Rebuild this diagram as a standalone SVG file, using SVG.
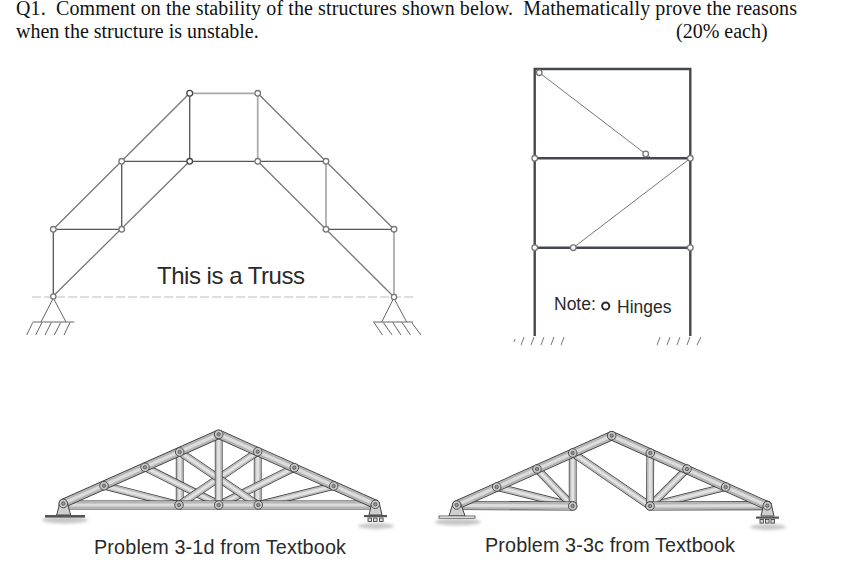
<svg xmlns="http://www.w3.org/2000/svg" width="859" height="567" viewBox="0 0 859 567">
<style>
.q{font-family:"Liberation Serif","Times New Roman",serif;font-size:20px;fill:#111}
.s{font-family:"Liberation Sans",Arial,sans-serif;fill:#2a2a2a}
.m{stroke:#77777b;stroke-width:1.3;fill:none}
.l{stroke:#a8a8ac;stroke-width:1.7;fill:none}
.k{stroke:#55555b;stroke-width:1.3;fill:none}
.t{stroke:#666;stroke-width:1;fill:none}
.j{fill:#fff;stroke:#77777b;stroke-width:1.3}
.fr{stroke:#44484e;stroke-width:2.4;fill:none}
.br{stroke:#77777b;stroke-width:1;fill:none}
.o{stroke:#3a3a3a;stroke-width:7.8;fill:none}
.f{stroke:#bcbcbc;stroke-width:6.4;fill:none}
.h{stroke:#e2e2e2;stroke-width:3;fill:none}
.co{stroke:#333;stroke-width:9.2;fill:none;stroke-linecap:round}
.cf{stroke:#b4b4b4;stroke-width:7.8;fill:none;stroke-linecap:round}
.ch{stroke:#dcdcdc;stroke-width:3.2;fill:none}
.p{fill:#cfcfcf;stroke:#444;stroke-width:1}
.bs{fill:#d8d8d8;stroke:#333;stroke-width:.8}
</style>
<defs>
<filter id="blur" x="-20%" y="-80%" width="140%" height="260%"><feGaussianBlur stdDeviation="1.4"/></filter>
<g id="pin"><circle r="4.3" fill="#c8c8c8" stroke="#444" stroke-width=".9"/><circle r="1.7" fill="#999" stroke="#333" stroke-width=".6"/></g>
</defs>
<rect width="859" height="567" fill="#fff"/>

<g id="question">
<text class="q" x="16" y="15" xml:space="preserve" textLength="781" lengthAdjust="spacing">Q1.  Comment on the stability of the structures shown below.  Mathematically prove the reasons</text>
<text class="q" x="16" y="38">when the structure is unstable.</text>
<text class="q" x="676" y="38">(20% each)</text>
</g>

<g id="truss-connectors">
<path d="M32 297H416" stroke="#bdbdbd" stroke-width="1.1" stroke-dasharray="9 3" fill="none"/>
<path class="m" d="M53.3 296L189.7 161.3M53.3 229.3L189.7 93.3M257.7 93.3L394 229.3M257.7 161.3L394 297"/>
<path class="k" d="M53.3 296V229.3M121.7 229.3V161.3M189.7 161.3V93.3M53.3 229.3H121.7M121.7 161.3H326M326 229.3H394"/>
<path class="l" d="M189.7 93.3H257.7M257.7 93.3V161.3M326 161.3V229.3M394 229.3V297"/>
</g>
<g id="truss-supports">
<path class="t" d="M53.3 298L41 322M53.3 298L66 322M32.7 322H74.3M393.8 298L381.7 322M393.8 298L406.7 322M373 322H413"/>
<path class="t" d="M32.7 322.5L26.7 335M42 322.5L35.7 335M51.3 322.5L45 335M60.7 322.5L54.3 335M70 322.5L64 335M374 322.5L382.5 335M383.3 322.5L392 335M392.7 322.5L401 335M402 322.5L410.5 335M411.7 322.5L421 335"/>
</g>
<g id="n1"><circle class="j" cx="53.3" cy="296.5" r="2.6"/></g>
<g id="n2"><circle class="j" cx="53.3" cy="229.3" r="2.8"/></g>
<g id="n3"><circle class="j" cx="121.7" cy="229.3" r="2.8"/></g>
<g id="n4"><circle class="j" cx="121.7" cy="161.3" r="2.8"/></g>
<g id="n5"><circle class="j" cx="189.7" cy="161.3" r="2.8" style="stroke:#444"/></g>
<g id="n6"><circle class="j" cx="189.7" cy="93.3" r="2.9" style="stroke:#444"/></g>
<g id="n7"><circle class="j" cx="257.7" cy="93.3" r="2.8"/></g>
<g id="n8"><circle class="j" cx="257.7" cy="161.3" r="2.8"/></g>
<g id="n9"><circle class="j" cx="326" cy="161.3" r="2.8"/></g>
<g id="n10"><circle class="j" cx="326" cy="229.3" r="2.8"/></g>
<g id="n11"><circle class="j" cx="394" cy="229.3" r="2.8"/></g>
<g id="n12"><circle class="j" cx="394" cy="297" r="2.6"/></g>
<text class="s" x="157" y="284" font-size="24" textLength="148">This is a Truss</text>

<g id="frame-connectors">
<path class="fr" d="M534.7 336V69H690.3V336M534.7 158.3H690.3M534.7 247.7H690.3"/>
<path class="br" d="M539.3 72.7L645.7 154L650 157M690.3 158.3L573.3 247.7"/>
<path stroke="#666" stroke-width=".9" fill="none" d="M515 339L514 342M524 337L521 345M534 337L531 345M544 337L541 345M554 337L551 345M564 337L561 345M660 337L657 345M670 337L667 345M680 337L677 345M690 337L687 345M701 337L697 345"/>
</g>
<g id="h1"><circle class="j" cx="539.3" cy="72.7" r="2.8"/></g>
<g id="h2"><circle class="j" cx="645.7" cy="154" r="2.8"/></g>
<g id="h3"><circle class="j" cx="534.7" cy="158.3" r="2.8"/></g>
<g id="h4"><circle class="j" cx="690.3" cy="158.3" r="2.8"/></g>
<g id="h5"><circle class="j" cx="534.7" cy="247.7" r="2.8"/></g>
<g id="h6"><circle class="j" cx="573.3" cy="247.7" r="2.8"/></g>
<g id="h7"><circle class="j" cx="690.3" cy="247.7" r="2.8"/></g>
<text class="s" x="554" y="310" font-size="17.5">Note:</text>
<circle cx="605.7" cy="306" r="3.6" fill="#fff" stroke="#2a2d33" stroke-width="2"/>
<text class="s" x="617" y="312.5" font-size="17.5">Hinges</text>

<g id="truss-1d">
<ellipse cx="65" cy="520" rx="23" ry="3.5" fill="#c8c8c8" filter="url(#blur)"/>
<ellipse cx="376" cy="526" rx="18" ry="3" fill="#c8c8c8" filter="url(#blur)"/>
<g>
<line class="o" x1="179.7" y1="452" x2="179.7" y2="505"/><line class="f" x1="179.7" y1="452" x2="179.7" y2="505"/><line class="h" x1="179.7" y1="452" x2="179.7" y2="505"/>
<line class="o" x1="257.7" y1="452" x2="257.7" y2="505"/><line class="f" x1="257.7" y1="452" x2="257.7" y2="505"/><line class="h" x1="257.7" y1="452" x2="257.7" y2="505"/>
<line class="o" x1="104" y1="485.7" x2="179" y2="505"/><line class="f" x1="104" y1="485.7" x2="179" y2="505"/><line class="h" x1="104" y1="485.7" x2="179" y2="505"/>
<line class="o" x1="333.7" y1="486" x2="258" y2="505"/><line class="f" x1="333.7" y1="486" x2="258" y2="505"/><line class="h" x1="333.7" y1="486" x2="258" y2="505"/>
<line class="o" x1="294.3" y1="467.7" x2="218.7" y2="505"/><line class="f" x1="294.3" y1="467.7" x2="218.7" y2="505"/><line class="h" x1="294.3" y1="467.7" x2="218.7" y2="505"/>
<line class="o" x1="145" y1="467.3" x2="220" y2="505"/><line class="f" x1="145" y1="467.3" x2="220" y2="505"/><line class="h" x1="145" y1="467.3" x2="220" y2="505"/>
<line class="o" x1="257.7" y1="451.7" x2="179" y2="505"/><line class="f" x1="257.7" y1="451.7" x2="179" y2="505"/><line class="h" x1="257.7" y1="451.7" x2="179" y2="505"/>
<line class="o" x1="179.7" y1="452" x2="258" y2="505"/><line class="f" x1="179.7" y1="452" x2="258" y2="505"/><line class="h" x1="179.7" y1="452" x2="258" y2="505"/>
<line class="o" x1="218.7" y1="434.3" x2="218.7" y2="505"/><line class="f" x1="218.7" y1="434.3" x2="218.7" y2="505"/><line class="h" x1="218.7" y1="434.3" x2="218.7" y2="505"/>
</g>
<g>
<line class="co" x1="63.3" y1="505" x2="375.3" y2="505"/><line class="cf" x1="63.3" y1="505" x2="375.3" y2="505"/><line class="ch" x1="70" y1="505" x2="368" y2="505"/>
<line class="co" x1="63.3" y1="503.3" x2="218.7" y2="434.3"/><line class="cf" x1="63.3" y1="503.3" x2="218.7" y2="434.3"/><line class="ch" x1="63.3" y1="503.3" x2="218.7" y2="434.3"/>
<line class="co" x1="218.7" y1="434.3" x2="375.3" y2="504.3"/><line class="cf" x1="218.7" y1="434.3" x2="375.3" y2="504.3"/><line class="ch" x1="218.7" y1="434.3" x2="375.3" y2="504.3"/>
</g>
<path class="p" d="M56.7 515L60 502Q63.5 498 67 502L70.7 515Z"/>
<path class="p" d="M369 515L372 502Q375.5 498 379 502L382 515Z"/>
<rect x="45" y="515" width="40" height="2.6" fill="#555"/>
<rect x="364" y="515" width="23" height="2.2" fill="#555"/>
<rect class="bs" x="368" y="518" width="3.6" height="3.6"/><rect class="bs" x="373.5" y="518" width="3.6" height="3.6"/><rect class="bs" x="379.5" y="518" width="3.6" height="3.6"/>
<use href="#pin" x="63.3" y="503.5"/><use href="#pin" x="104" y="485.7"/><use href="#pin" x="145" y="467.3"/><use href="#pin" x="179.7" y="452"/><use href="#pin" x="218.7" y="434.3"/><use href="#pin" x="257.7" y="451.7"/><use href="#pin" x="294.3" y="467.7"/><use href="#pin" x="333.7" y="486"/><use href="#pin" x="375.3" y="504.3"/><use href="#pin" x="179" y="505"/><use href="#pin" x="218.7" y="505"/><use href="#pin" x="258.3" y="505"/>
</g>
<text class="s" x="94" y="554" font-size="19.8" textLength="252">Problem 3-1d from Textbook</text>

<g id="truss-3c">
<ellipse cx="458" cy="522" rx="23" ry="3.5" fill="#c8c8c8" filter="url(#blur)"/>
<ellipse cx="768" cy="527" rx="18" ry="3" fill="#c8c8c8" filter="url(#blur)"/>
<g>
<line class="o" x1="496.7" y1="487" x2="572.7" y2="506"/><line class="f" x1="496.7" y1="487" x2="572.7" y2="506"/><line class="h" x1="496.7" y1="487" x2="572.7" y2="506"/>
<line class="o" x1="537" y1="469" x2="572.7" y2="506"/><line class="f" x1="537" y1="469" x2="572.7" y2="506"/><line class="h" x1="537" y1="469" x2="572.7" y2="506"/>
<line class="o" x1="572.7" y1="453" x2="572.7" y2="506"/><line class="f" x1="572.7" y1="453" x2="572.7" y2="506"/><line class="h" x1="572.7" y1="453" x2="572.7" y2="506"/>
<line class="o" x1="572.7" y1="453" x2="650" y2="506"/><line class="f" x1="572.7" y1="453" x2="650" y2="506"/><line class="h" x1="572.7" y1="453" x2="650" y2="506"/>
<line class="o" x1="725.7" y1="487" x2="650" y2="506"/><line class="f" x1="725.7" y1="487" x2="650" y2="506"/><line class="h" x1="725.7" y1="487" x2="650" y2="506"/>
<line class="o" x1="687" y1="469" x2="650" y2="506"/><line class="f" x1="687" y1="469" x2="650" y2="506"/><line class="h" x1="687" y1="469" x2="650" y2="506"/>
<line class="o" x1="650.3" y1="453" x2="650" y2="506"/><line class="f" x1="650.3" y1="453" x2="650" y2="506"/><line class="h" x1="650.3" y1="453" x2="650" y2="506"/>
</g>
<g>
<line class="co" x1="456.7" y1="505.5" x2="572.7" y2="506"/><line class="cf" x1="456.7" y1="505.5" x2="572.7" y2="506"/><line class="ch" x1="462" y1="505.5" x2="570" y2="506"/>
<line class="co" x1="650" y1="506" x2="767.3" y2="505.7"/><line class="cf" x1="650" y1="506" x2="767.3" y2="505.7"/><line class="ch" x1="653" y1="506" x2="762" y2="505.7"/>
<line class="co" x1="456.7" y1="505" x2="611.7" y2="435.7"/><line class="cf" x1="456.7" y1="505" x2="611.7" y2="435.7"/><line class="ch" x1="456.7" y1="505" x2="611.7" y2="435.7"/>
<line class="co" x1="611.7" y1="435.7" x2="767.3" y2="505.7"/><line class="cf" x1="611.7" y1="435.7" x2="767.3" y2="505.7"/><line class="ch" x1="611.7" y1="435.7" x2="767.3" y2="505.7"/>
</g>
<path class="p" d="M449 516L453 503Q456.7 499 460.5 503L465 516Z"/>
<path class="p" d="M761 516L764 503Q767.3 499 771 503L774 516Z"/>
<rect x="439" y="516" width="36" height="2.2" fill="#fff" stroke="#444" stroke-width=".8"/>
<rect x="756" y="516.5" width="23" height="2.2" fill="#555"/>
<rect class="bs" x="760" y="519.5" width="3.6" height="3.6"/><rect class="bs" x="765.5" y="519.5" width="3.6" height="3.6"/><rect class="bs" x="771" y="519.5" width="3.6" height="3.6"/>
<use href="#pin" x="456.7" y="505"/><use href="#pin" x="496.7" y="487"/><use href="#pin" x="537" y="469"/><use href="#pin" x="572.7" y="453"/><use href="#pin" x="611.7" y="435.7"/><use href="#pin" x="650.3" y="453"/><use href="#pin" x="687" y="469"/><use href="#pin" x="725.7" y="487"/><use href="#pin" x="767.3" y="505.7"/><use href="#pin" x="572.7" y="506"/><use href="#pin" x="650" y="506"/>
</g>
<text class="s" x="485" y="552" font-size="19.8" textLength="250">Problem 3-3c from Textbook</text>
</svg>
